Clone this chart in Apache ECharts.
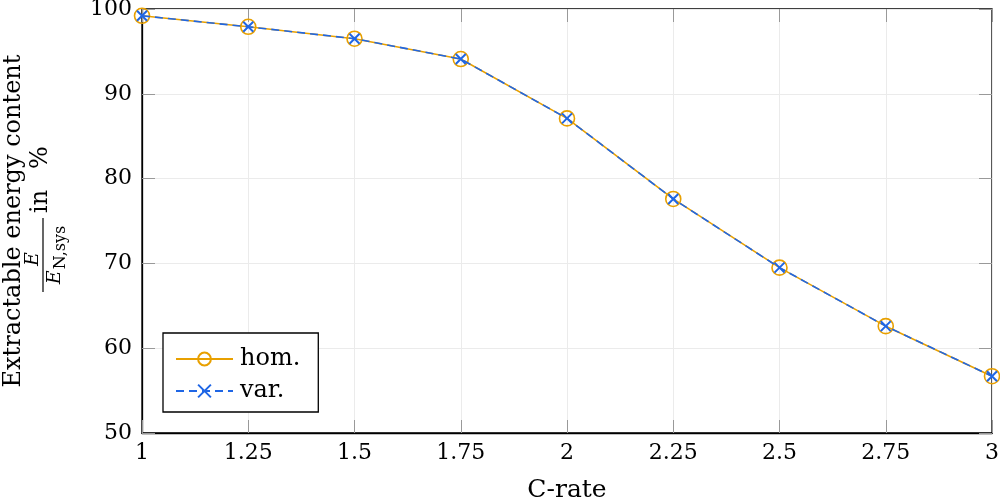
<!DOCTYPE html>
<html>
<head>
<meta charset="utf-8">
<script src="https://cdn.jsdelivr.net/npm/echarts@6/dist/echarts.min.js"></script>
<style>
  html, body { margin: 0; padding: 0; background: #fff; }
  #chart { width: 1000px; height: 501px; }
</style>
</head>
<body>
<div id="chart"></div>
<script>
// C-rate vs extractable energy content
const cRate = [1, 1.25, 1.5, 1.75, 2, 2.25, 2.5, 2.75, 3];
const homValues = [99.2, 97.9, 96.5, 94.1, 87.1, 77.6, 69.5, 62.6, 56.7];
const varValues = [99.2, 97.9, 96.5, 94.1, 87.1, 77.6, 69.5, 62.6, 56.7];

const orange = '#e8a000';
const blue = '#1f66e5';
const font = 'DejaVu Serif';

const chart = echarts.init(document.getElementById('chart'));

const pairs = (xs, ys) => xs.map((x, i) => [x, ys[i]]);

const tickStyle = { show: true, inside: true, length: 13, lineStyle: { color: '#999', width: 1 } };

const option = {
  animation: false,
  backgroundColor: '#fff',
  textStyle: { fontFamily: font },
  grid: {
    left: 142, right: 8, top: 9, bottom: 68,
    outerBoundsMode: 'none', containLabel: false,
    show: true, borderColor: '#000', borderWidth: 1.3, backgroundColor: 'transparent'
  },
  legend: {
    left: 163, top: 333,
    orient: 'vertical',
    itemWidth: 57, itemHeight: 16, itemGap: 8,
    padding: [14, 18, 9, 12],
    backgroundColor: '#fff',
    borderColor: '#000', borderWidth: 1.3,
    textStyle: { fontFamily: font, fontSize: 24, lineHeight: 24, color: '#000', padding: [0, 0, 0, 2] },
    data: ['hom.', 'var.']
  },
  xAxis: [{
    type: 'value', min: 1, max: 3, interval: 0.25,
    name: 'C-rate', nameLocation: 'middle', nameGap: 45,
    nameTextStyle: { fontFamily: font, fontSize: 25, color: '#000' },
    axisLine: { show: true, lineStyle: { color: '#000', width: 1.3 } },
    axisTick: tickStyle,
    axisLabel: { fontFamily: font, fontSize: 22, color: '#000', margin: 9 },
    splitLine: { show: true, lineStyle: { color: '#ebebeb', width: 1 } }
  }, {
    type: 'value', position: 'top', min: 1, max: 3, interval: 0.25,
    axisLine: { show: false }, axisTick: tickStyle,
    axisLabel: { show: false }, splitLine: { show: false }
  }],
  yAxis: [{
    type: 'value', min: 50, max: 100, interval: 10,
    axisLine: { show: true, lineStyle: { color: '#000', width: 1.3 } },
    axisTick: tickStyle,
    axisLabel: { fontFamily: font, fontSize: 22, color: '#000', margin: 10 },
    splitLine: { show: true, lineStyle: { color: '#ebebeb', width: 1 } }
  }, {
    type: 'value', position: 'right', min: 50, max: 100, interval: 10,
    axisLine: { show: false }, axisTick: tickStyle,
    axisLabel: { show: false }, splitLine: { show: false }
  }],
  series: [{
    name: 'hom.',
    type: 'line',
    data: pairs(cRate, homValues),
    symbol: 'circle', symbolSize: 15,
    lineStyle: { color: orange, width: 1.6 },
    itemStyle: { color: 'rgba(255,255,255,0)', borderColor: orange, borderWidth: 1.6 },
    z: 2
  }, {
    name: 'var.',
    type: 'line',
    data: pairs(cRate, varValues),
    symbol: 'path://M0,0L10,10M10,0L0,10', symbolSize: 10,
    lineStyle: { color: blue, width: 1.6, type: [8, 5] },
    itemStyle: { color: blue, borderColor: blue, borderWidth: 2 },
    z: 3
  }],
  graphic: [{
    type: 'text',
    x: 14, y: 221,
    rotation: Math.PI / 2,
    style: {
      text: 'Extractable energy content',
      font: '24px "DejaVu Serif"', fill: '#000',
      align: 'center', verticalAlign: 'middle'
    }
  }, {
    type: 'group',
    x: 43, y: 255,
    rotation: Math.PI / 2,
    children: [{
      type: 'line',
      shape: { x1: -37, y1: 0, x2: 37, y2: 0 },
      style: { stroke: '#000', lineWidth: 1.2 }
    }, {
      type: 'text',
      x: -4, y: -10,
      style: {
        text: 'E', font: 'italic 19px "DejaVu Serif"', fill: '#000',
        align: 'center', verticalAlign: 'middle'
      }
    }, {
      type: 'text',
      x: 0, y: 14,
      style: {
        text: '{i|E}{s|N,sys}',
        align: 'center', verticalAlign: 'middle',
        rich: {
          i: { fontFamily: font, fontStyle: 'italic', fontSize: 19, fill: '#000', verticalAlign: 'top' },
          s: { fontFamily: font, fontSize: 16, fill: '#000', padding: [7, 0, 0, 1], verticalAlign: 'top' }
        }
      }
    }, {
      type: 'text',
      x: 42, y: -2,
      style: {
        text: 'in', font: '24px "DejaVu Serif"', fill: '#000',
        align: 'left', verticalAlign: 'middle'
      }
    }, {
      type: 'text',
      x: 86, y: -2,
      style: {
        text: '%', font: '24px "DejaVu Serif"', fill: '#000',
        align: 'left', verticalAlign: 'middle'
      }
    }]
  }]
};

chart.setOption(option);
</script>
</body>
</html>
